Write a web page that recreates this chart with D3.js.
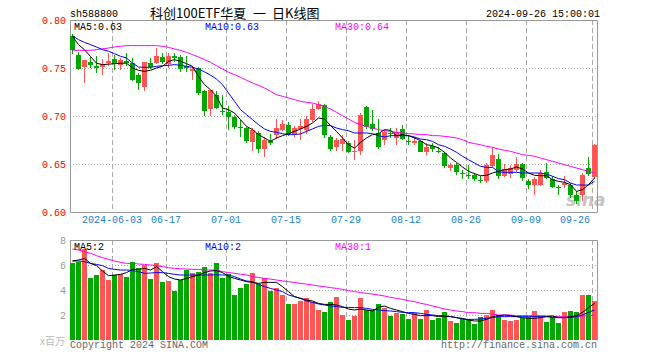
<!DOCTYPE html>
<html>
<head>
<meta charset="utf-8">
<script src="https://cdn.jsdelivr.net/npm/d3@7"></script>
<style>
  body { margin: 0; background: #fff; }
  svg { display: block; }
  .mono { font-family: "Liberation Mono", "DejaVu Sans Mono", monospace; font-size: 10px; }
  .cjk { font-family: "Noto Sans CJK SC", sans-serif; font-size: 13px; }
</style>
</head>
<body>
<div id="chart"></div>
<script>
// trading days shown on the chart
const dates = [
  "2024-05-23","2024-05-24","2024-05-27","2024-05-28","2024-05-29","2024-05-30","2024-05-31",
  "2024-06-03","2024-06-04","2024-06-05","2024-06-06","2024-06-07","2024-06-11","2024-06-12","2024-06-13","2024-06-14",
  "2024-06-17","2024-06-18","2024-06-19","2024-06-20","2024-06-21","2024-06-24","2024-06-25","2024-06-26","2024-06-27","2024-06-28",
  "2024-07-01","2024-07-02","2024-07-03","2024-07-04","2024-07-05","2024-07-08","2024-07-09","2024-07-10","2024-07-11","2024-07-12",
  "2024-07-15","2024-07-16","2024-07-17","2024-07-18","2024-07-19","2024-07-22","2024-07-23","2024-07-24","2024-07-25","2024-07-26",
  "2024-07-29","2024-07-30","2024-07-31","2024-08-01","2024-08-02","2024-08-05","2024-08-06","2024-08-07","2024-08-08","2024-08-09",
  "2024-08-12","2024-08-13","2024-08-14","2024-08-15","2024-08-16","2024-08-19","2024-08-20","2024-08-21","2024-08-22","2024-08-23",
  "2024-08-26","2024-08-27","2024-08-28","2024-08-29","2024-08-30","2024-09-02","2024-09-03","2024-09-04","2024-09-05","2024-09-06",
  "2024-09-09","2024-09-10","2024-09-11","2024-09-12","2024-09-13","2024-09-18","2024-09-19","2024-09-20",
  "2024-09-23","2024-09-24","2024-09-25","2024-09-26"
]

const open = [.783,.764,.751,.756,.752,.751,.755,.759,.753,.757,.755,.743,.730,.755,.755,.761,.754,.762,.761,.752,
  .747,.750,.726,.707,.722,.7056,.704,.699,.6888,.687,.673,.682,.666,.674,.680,.685,.691,.681,.686,.685,
  .696,.707,.711,.678,.668,.671,.672,.663,.664,.709,.692,.682,.675,.682,.677,.686,.6736,.672,.674,.662,
  .669,.664,.6615,.646,.649,.6403,.6385,.639,.6338,.632,.648,.655,.637,.640,.644,.650,.632,.628,.6285,.642,
  .634,.6262,.6285,.6285,.618,.618,.6458,.636]
const high = [.785,.767,.758,.761,.762,.759,.766,.764,.760,.766,.760,.745,.756,.760,.771,.766,.766,.766,.764,.762,
  .752,.751,.727,.727,.726,.722,.710,.701,.696,.689,.688,.684,.678,.681,.697,.696,.694,.690,.697,.700,
  .712,.716,.712,.680,.677,.680,.674,.675,.703,.710,.706,.697,.685,.687,.687,.691,.680,.678,.675,.672,
  .672,.668,.663,.651,.651,.644,.649,.641,.637,.651,.668,.660,.650,.649,.657,.651,.634,.636,.644,.651,
  .637,.6285,.637,.630,.6215,.6406,.6573,.6705]
const low = [.765,.748,.734,.750,.745,.743,.752,.748,.748,.752,.736,.727,.726,.749,.754,.754,.750,.756,.746,.746,
  .737,.722,.700,.700,.707,.701,.685,.686,.678,.672,.664,.661,.657,.670,.676,.684,.679,.678,.675,.681,
  .694,.706,.677,.664,.664,.664,.661,.654,.659,.686,.684,.666,.670,.677,.670,.675,.670,.670,.662,.659,
  .662,.6615,.646,.643,.639,.634,.634,.632,.630,.630,.646,.634,.636,.635,.642,.632,.624,.618,.627,.634,
  .625,.618,.625,.6146,.6086,.611,.637,.634]
const close = [.769,.749,.758,.753,.750,.754,.757,.754,.758,.755,.738,.734,.756,.751,.762,.756,.763,.760,.749,.750,
  .749,.724,.705,.727,.708,.7052,.699,.689,.6885,.674,.685,.666,.675,.672,.688,.692,.681,.688,.690,.697,
  .707,.712,.680,.666,.675,.676,.663,.664,.701,.689,.686,.668,.683,.681,.683,.676,.6733,.674,.663,.668,
  .666,.662,.648,.649,.642,.6399,.6382,.634,.6336,.649,.659,.637,.645,.646,.650,.635,.628,.634,.641,.635,
  .626,.626,.630,.618,.611,.639,.6396,.670]

// volume, millions
const volume = [6.19,6.27,7.28,4.99,5.2,5.6,4.8,5.2,5.28,5.04,6.24,5.76,6.0,4.88,6.16,4.64,4.72,3.92,4.8,5.6,
  5.36,5.44,5.84,5.36,6.16,4.99,5.25,3.6,4.19,4.45,5.39,4.45,4.99,3.95,4.13,3.6,2.88,2.88,3.12,3.39,
  3.07,2.4,2.21,3.07,3.47,2.0,1.6,1.95,3.39,2.4,2.4,2.85,2.53,1.95,2.19,2.08,1.68,2.13,1.68,2.4,
  1.6,1.73,2.24,1.52,1.39,1.65,1.68,1.28,1.81,2.0,2.4,2.0,1.6,1.52,1.6,1.73,1.87,2.32,1.95,1.44,
  1.87,1.39,2.24,2.32,2.24,3.6,3.6,3.12]

// moving averages as drawn on the price panel
const ma5 = [.783,.7743,.769,.762,.755,.7535,.754,.7545,.755,.755,.75,.7476,.7465,.7476,.75,.7517,.7569,.7587,.757,.7545,
  .7517,.7413,.7326,.7274,.7205,.7083,.7066,.7031,.6962,.6892,.6858,.6806,.6771,.6736,.6771,.6795,.6816,.684,.6865,.6892,
  .6927,.6979,.6969,.69,.684,.6771,.6701,.6665,.6725,.6771,.6806,.6816,.6858,.6851,.6795,.6806,.6795,.6771,.6743,.6701,
  .6691,.6667,.6622,.6563,.6517,.6469,.6424,.6399,.6378,.6382,.6406,.6424,.6441,.6448,.6469,.6448,.6406,.6382,.6378,.6378,
  .6337,.6319,.6309,.6285,.6215,.6233,.6285,.6354]
const ma10 = [.7837,.7795,.7767,.7743,.7719,.7691,.7674,.7649,.7622,.7604,.7552,.751,.7507,.7507,.7517,.7524,.7528,.7535,.7528,.7517,
  .7507,.749,.746,.7425,.7385,.7326,.724,.7153,.7066,.7014,.6962,.691,.6865,.684,.683,.6816,.6806,.6806,.6813,.684,
  .6865,.6892,.6903,.69,.6875,.6858,.6847,.6823,.6823,.6823,.6816,.6795,.6781,.6795,.6795,.6795,.6795,.6781,.676,.6753,
  .6736,.6701,.6684,.6656,.6622,.658,.6545,.651,.6476,.6465,.6465,.6417,.6413,.6413,.6413,.6406,.6406,.6406,.6406,.6396,
  .6372,.6347,.6337,.6302,.6281,.6281,.6281,.6319]
const ma30 = [.7684,.7684,.7684,.7684,.7691,.77,.7708,.7719,.7726,.7733,.7733,.7733,.7733,.7733,.7733,.7726,.7715,.7698,.7684,.7663,
  .7639,.7615,.7587,.7559,.7524,.749,.7455,.7431,.7403,.7372,.7344,.7319,.7292,.7257,.7222,.7205,.7188,.717,.7153,.7142,
  .7135,.7118,.71,.7073,.7038,.7003,.6969,.6934,.691,.6892,.6875,.6858,.6847,.684,.683,.6823,.6816,.6813,.6806,.6806,
  .6795,.6795,.6788,.6781,.6771,.6753,.6726,.6712,.6701,.6684,.6674,.6656,.6642,.6632,.6615,.6597,.659,.658,.6563,.6545,
  .6528,.651,.6493,.6476,.6458,.6441,.6424,.6406]

// moving averages of volume
const vma5 = [6.32,6.4,6.53,6.13,5.95,5.52,5.15,5.2,5.25,5.39,5.65,5.65,5.73,5.6,5.87,5.47,5.07,4.88,4.8,4.93,
  5.07,5.2,5.39,5.52,5.55,5.39,5.07,4.93,4.8,4.67,4.61,4.53,4.61,4.61,4.61,4.27,3.87,3.47,3.33,3.2,
  3.12,2.93,2.85,2.85,2.8,2.67,2.48,2.4,2.48,2.4,2.32,2.61,2.72,2.53,2.4,2.27,2.13,2.05,1.95,1.95,
  1.95,1.87,1.87,1.87,1.79,1.73,1.6,1.52,1.52,1.65,1.87,1.95,2.0,1.95,1.87,1.79,1.73,1.73,1.79,1.87,
  1.92,1.79,1.79,1.87,1.95,2.21,2.59,2.93]
const vma10 = [6.32,6.32,6.27,6.13,6.05,5.95,5.73,5.65,5.6,5.6,5.55,5.47,5.33,5.36,5.39,5.39,5.33,5.25,5.2,5.2,
  5.2,5.2,5.2,5.2,5.22,5.2,5.2,5.07,4.88,4.72,4.67,4.45,4.27,4.13,4.0,3.87,3.6,3.47,3.33,3.12,
  3.01,2.88,2.8,2.72,2.67,2.61,2.61,2.59,2.59,2.53,2.45,2.4,2.35,2.32,2.27,2.21,2.19,2.19,2.13,2.05,
  2.0,1.95,1.95,1.87,1.79,1.68,1.65,1.65,1.68,1.73,1.79,1.87,1.87,1.87,1.87,1.87,1.87,1.87,1.87,1.87,
  1.79,1.79,1.79,1.79,1.87,2.0,2.21,2.4]
const vma30 = [7.28,7.2,7.07,6.93,6.75,6.59,6.45,6.32,6.21,6.13,6.13,6.08,6.05,6.0,5.95,5.87,5.79,5.73,5.7,5.68,
  5.65,5.65,5.6,5.6,5.6,5.47,5.4,5.33,5.27,5.2,5.07,5.0,4.93,4.87,4.8,4.73,4.67,4.6,4.53,4.47,
  4.4,4.32,4.27,4.19,4.13,4.05,3.95,3.87,3.8,3.73,3.67,3.6,3.52,3.41,3.33,3.25,3.15,3.07,2.93,2.85,
  2.72,2.61,2.48,2.4,2.32,2.27,2.19,2.19,2.13,2.13,2.08,2.0,2.0,2.0,1.95,1.95,1.95,1.95,1.95,1.92,
  1.92,1.87,1.87,1.87,1.87,1.92,1.95,2.0]

// axis ticks and labels
const priceTicks = [0.60, 0.65, 0.70, 0.75, 0.80]
const volTicks = [2, 4, 6, 8]
const tickDates = ["2024-06-03","2024-06-17","2024-07-01","2024-07-15","2024-07-29","2024-08-12","2024-08-26","2024-09-09","2024-09-26"]
const tickLabels = ["2024-06-03","06-17","07-01","07-15","07-29","08-12","08-26","09-09","09-26"]
const titleParts = ["科创100ETF华夏", "一", "日K线图"]
const maLabels = ["MA5:0.63", "MA10:0.63", "MA30:0.64"]
const volMaLabels = ["MA5:2", "MA10:2", "MA30:1"]

const red = "#ff5555", green = "#00a800"
const maColors = ["#000000", "#0000ff", "#ff00ff"]

const left = 70, right = 598
const pTop = 20, pBottom = 212
const vTop = 240, vBottom = 340

const svg = d3.select("#chart").append("svg")
  .attr("width", 660).attr("height", 360)

const x = d3.scaleBand().domain(dates).range([left, right]).padding(0)
const y = d3.scaleLinear().domain([0.60, 0.80]).range([pBottom, pTop])
const vy = d3.scaleLinear().domain([0, 8]).range([vBottom, vTop])
const bodyW = x.bandwidth() - 1

const rows = dates.map((d, i) => ({
  date: d, o: open[i], h: high[i], l: low[i], c: close[i], v: volume[i],
  up: close[i] >= open[i]
}))

// header
svg.append("text").attr("class", "mono").attr("x", 70).attr("y", 16.5).text("sh588800")
const titleX = [150, 253, 272]
titleParts.forEach((t, i) => {
  svg.append("text").attr("class", "cjk").attr("x", titleX[i]).attr("y", 17.5).text(t)
})
svg.append("text").attr("class", "mono").attr("x", 600).attr("y", 16.5)
  .attr("text-anchor", "end").text("2024-09-26 15:00:01")

// watermark behind candles
svg.append("text").attr("x", 566).attr("y", 206)
  .style("font-family", '"DejaVu Sans", sans-serif').style("font-size", "17px")
  .style("font-weight", "bold").style("font-style", "italic")
  .attr("fill", "#c4c4c4").text("sina")

function grid(top, bottom, scale, values, closed) {
  let g = svg.append("g")
  g.selectAll(".hg").data(values).enter().append("line")
    .attr("x1", left).attr("x2", right)
    .attr("y1", d => Math.round(scale(d)) + 0.5).attr("y2", d => Math.round(scale(d)) + 0.5)
    .attr("stroke", "#aaa").attr("stroke-dasharray", "1,2")
  g.selectAll(".vg").data(tickDates).enter().append("line")
    .attr("x1", d => x(d) + 0.5).attr("x2", d => x(d) + 0.5)
    .attr("y1", top).attr("y2", bottom)
    .attr("stroke", "#aaa").attr("stroke-dasharray", "5,3")
  let l = left + 0.5, r = right - 0.5, t = top + 0.5, b = bottom + 0.5
  let path = "M" + l + "," + b + "V" + t + "H" + r + "V" + b
  if (closed) path += "H" + l
  g.append("path").attr("d", path).attr("fill", "none").attr("stroke", "#999")
}
grid(pTop, pBottom, y, [0.65, 0.70, 0.75], true)
grid(vTop, vBottom, vy, [2, 4, 6], false)

// candles
let candles = svg.append("g").attr("shape-rendering", "crispEdges")
candles.selectAll(".wick").data(rows).enter().append("line")
  .attr("x1", d => x(d.date) + 2.5).attr("x2", d => x(d.date) + 2.5)
  .attr("y1", d => y(d.h)).attr("y2", d => y(d.l))
  .attr("stroke", d => d.up ? red : green)
candles.selectAll(".body").data(rows).enter().append("rect")
  .attr("x", d => x(d.date)).attr("width", bodyW)
  .attr("y", d => y(Math.max(d.o, d.c)))
  .attr("height", d => Math.max(1, Math.abs(y(d.o) - y(d.c))))
  .attr("fill", d => d.up ? red : green)

// volume bars
svg.append("g").attr("shape-rendering", "crispEdges")
  .selectAll("rect").data(rows).enter().append("rect")
  .attr("x", d => x(d.date)).attr("width", bodyW)
  .attr("y", d => vy(d.v)).attr("height", d => vBottom - vy(d.v))
  .attr("fill", d => d.up ? red : green)

// moving average lines
function maLine(values, scale, color) {
  let line = d3.line()
    .x((d, i) => x(dates[i]) + 2.5)
    .y(d => scale(d))
  svg.append("path").datum(values)
    .attr("d", line).attr("fill", "none")
    .attr("stroke", color).attr("stroke-width", 1)
}
maLine(ma30, y, maColors[2])
maLine(ma10, y, maColors[1])
maLine(ma5, y, maColors[0])
maLine(vma30, vy, maColors[2])
maLine(vma10, vy, maColors[1])
maLine(vma5, vy, maColors[0])

// MA legends
const legendX = [74, 205, 335]
maLabels.forEach((t, i) => {
  svg.append("text").attr("class", "mono").attr("x", legendX[i]).attr("y", 29.5)
    .attr("fill", maColors[i]).text(t)
})
volMaLabels.forEach((t, i) => {
  svg.append("text").attr("class", "mono").attr("x", legendX[i]).attr("y", 250)
    .attr("fill", maColors[i]).text(t)
})

// axes
let yAxis = svg.append("g").attr("transform", "translate(" + left + ",0)")
  .call(d3.axisLeft(y).tickValues(priceTicks).tickSize(0).tickPadding(4)
    .tickFormat(d3.format(".2f")))
yAxis.select(".domain").remove()
yAxis.selectAll("text").attr("class", "mono").attr("fill", "#ff0000")

let vAxis = svg.append("g").attr("transform", "translate(" + left + ",0)")
  .call(d3.axisLeft(vy).tickValues(volTicks).tickSize(0).tickPadding(4))
vAxis.select(".domain").remove()
vAxis.selectAll("text").attr("class", "mono").attr("fill", "#999")

let xAxis = svg.append("g").attr("transform", "translate(-3," + pBottom + ")")
  .call(d3.axisBottom(x).tickValues(tickDates).tickSize(0).tickPadding(4)
    .tickFormat(d => tickLabels[tickDates.indexOf(d)]))
xAxis.select(".domain").remove()
xAxis.selectAll("text").attr("class", "mono").attr("fill", "#1a80d0")
xAxis.selectAll(".tick:last-of-type text").attr("text-anchor", "end").attr("dx", -2)

// footer
svg.append("text").attr("x", 65).attr("y", 345).attr("text-anchor", "end")
  .style("font-family", '"Noto Sans CJK SC", sans-serif').style("font-size", "10px")
  .attr("fill", "#bbb").text("x百万")
svg.append("text").attr("class", "mono").attr("x", 70).attr("y", 348)
  .attr("fill", "#666").text("Copyright 2024 SINA.COM")
svg.append("text").attr("class", "mono").attr("x", 597).attr("y", 348)
  .attr("text-anchor", "end").attr("fill", "#666").text("http://finance.sina.com.cn")
</script>
</body>
</html>
